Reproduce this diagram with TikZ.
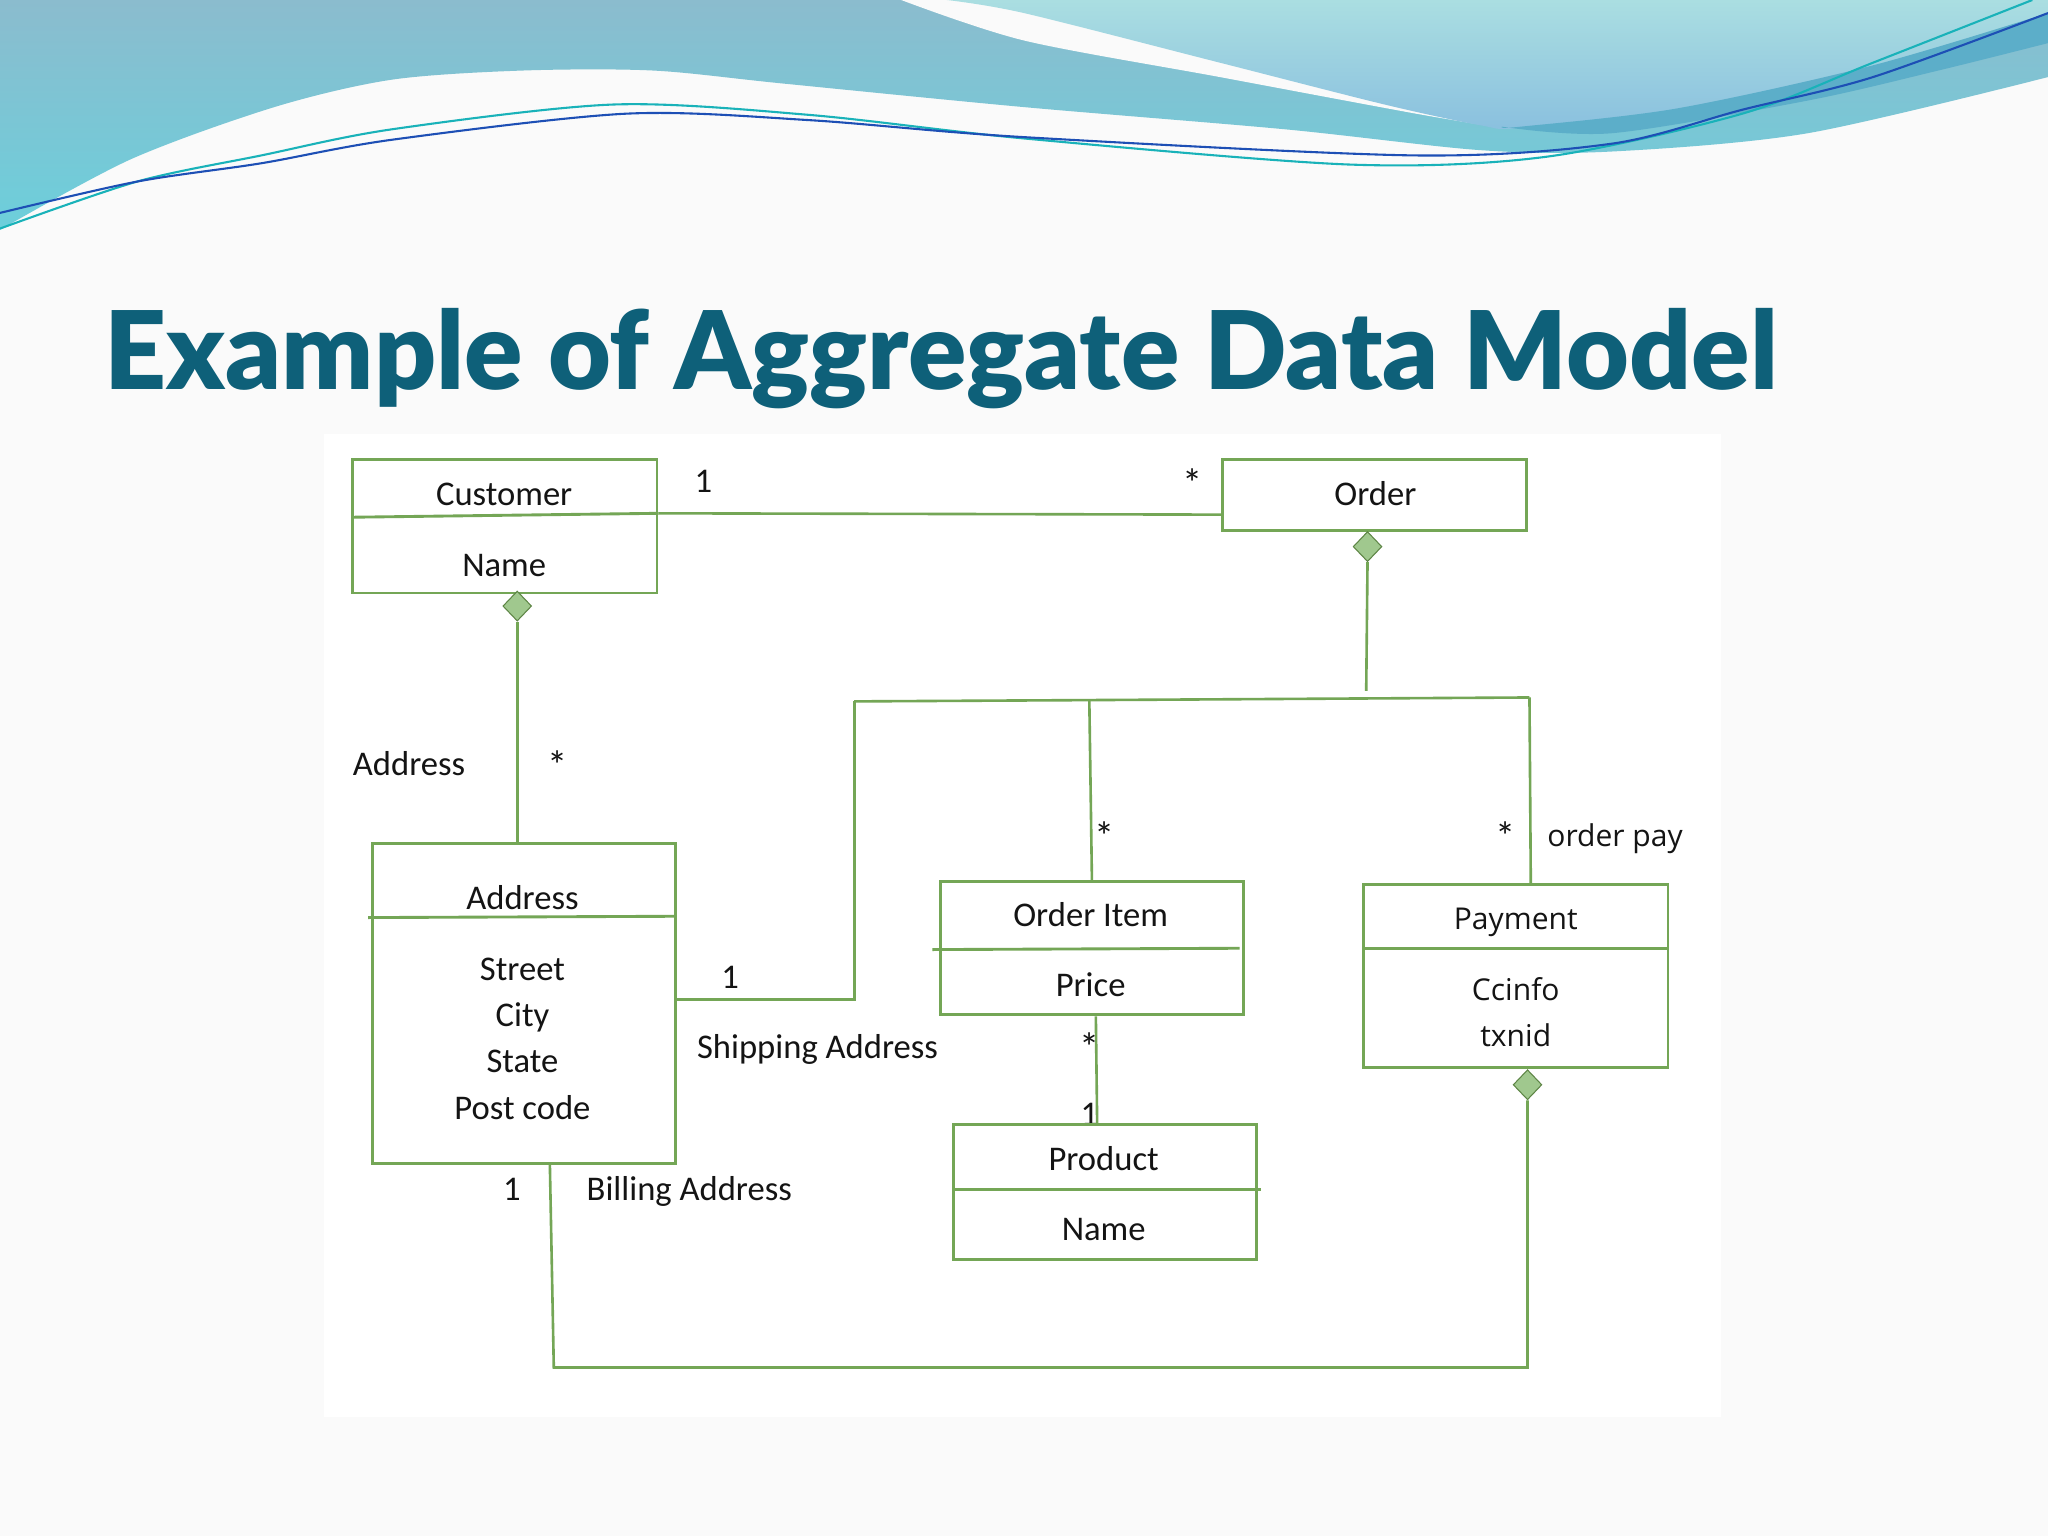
\documentclass[tikz,border=0pt]{standalone}
\usepackage{fontspec}
\setmainfont{Carlito}
\newfontfamily\titlefont{Lato}[UprightFont=* Black]
\newfontfamily\segoe{Open Sans}
\usetikzlibrary{shapes.geometric,calc}
\definecolor{lg}{RGB}{116,166,86}
\definecolor{dfill}{RGB}{160,200,142}
\definecolor{ttl}{RGB}{14,96,121}
\definecolor{txt}{RGB}{20,20,20}
\definecolor{slide}{RGB}{250,250,250}
\definecolor{tealtop}{RGB}{139,188,206}
\definecolor{tealbot}{RGB}{108,207,219}
\definecolor{lighttop}{RGB}{170,222,225}
\definecolor{lightbot}{RGB}{138,192,223}
\definecolor{darkstrip}{RGB}{92,174,201}
\definecolor{tealline}{RGB}{25,178,185}
\definecolor{blueline}{RGB}{29,79,181}
\begin{document}
\begin{tikzpicture}[x=1pt,y=-1pt,
  umlbox/.style={draw=lg, line width=2.2pt, rectangle, inner sep=0pt},
  conn/.style={draw=lg, line width=2pt},
  agg/.style={diamond, draw=lg!80!black, fill=dfill, line width=0.8pt, inner sep=0pt, minimum width=22pt, minimum height=23pt},
  lab/.style={font=\fontsize{26.5}{32}\selectfont, text=txt, anchor=base, inner sep=0pt},
  star/.style={font=\fontsize{31}{36}\selectfont, text=txt, anchor=base, inner sep=0pt},
  slab/.style={font=\segoe\fontsize{23}{28}\selectfont, text=txt, anchor=base, inner sep=0pt}]
% background
\fill[slide] (0,0) rectangle (1568,1176);
\useasboundingbox (0,0) rectangle (1568,1176);
% header waves
\shade[top color=tealtop, bottom color=tealbot] (0,0) -- (1568,0) -- (1568,59)
  -- plot[smooth] coordinates {(1568,59) (1384,102) (1234,116) (1134,115) (984,99) (784,82) (600,64) (500,54) (400,54) (300,61) (210,82) (100,122) (0,176)} -- cycle;
\fill[slide] plot[smooth] coordinates {(690,0) (784,31) (934,59) (1084,87) (1150,98)} -- (1568,0) -- cycle;
\shade[top color=lighttop, bottom color=lightbot] plot[smooth] coordinates {(725,0) (784,10) (934,48) (1060,80) (1134,96) (1164,98) (1284,84) (1434,51) (1568,10)} -- (1568,0) -- cycle;
\fill[darkstrip] plot[smooth] coordinates {(1150,97) (1164,97) (1284,83) (1434,50) (1568,10)} -- (1568,33)
  -- plot[smooth] coordinates {(1568,33) (1484,54) (1384,77) (1234,102) (1150,97)} -- cycle;
\draw[tealline, line width=1.6pt] plot[smooth] coordinates {(0,175) (105,139) (200,119) (300,99) (470,80) (620,88) (784,106) (1034,126) (1184,120) (1334,87) (1434,48) (1556,0)};
\draw[blueline, line width=1.6pt] plot[smooth] coordinates {(0,163) (105,139) (200,125) (300,107) (480,87) (620,92) (784,105) (1084,119) (1234,110) (1334,84) (1434,59) (1568,10)};
% title
\node[font=\titlefont\fontsize{83}{96}\selectfont, text=ttl, anchor=base west, inner sep=0pt] (title) at (80,298) {Example of Aggregate Data Model};
% diagram canvas
\fill[white] (248,332) rectangle (1318,1085);
% multiplicity under product box line
\node[lab] (m1prod) at (834,862) {1};
% boxes
\node[umlbox, minimum width=233pt, minimum height=102pt] (cust) at (386.5,403) {};
\node[umlbox, minimum width=233pt, minimum height=54pt] (order) at (1052.5,379) {};
\node[umlbox, minimum width=232pt, minimum height=245pt] (addr) at (401,768.5) {};
\node[umlbox, minimum width=232pt, minimum height=102pt] (oitem) at (836,726) {};
\node[umlbox, minimum width=232pt, minimum height=103pt] (prod) at (846,912.5) {};
\node[umlbox, minimum width=233pt, minimum height=140pt] (pay) at (1160.5,747) {};
% dividers
\draw[umlbox] ([yshift=7pt]cust.west) -- ([yshift=10pt]cust.east);
\draw[umlbox] ([xshift=-2pt,yshift=66pt]addr.west) -- ([yshift=67pt]addr.east);
\draw[umlbox] ([xshift=-5pt,yshift=-1pt]oitem.west) -- ([xshift=-4pt]oitem.east);
\draw[umlbox] ([yshift=1.5pt]prod.west) -- ([xshift=2pt,yshift=1.5pt]prod.east);
\draw[umlbox] ([yshift=21pt]pay.west) -- ([yshift=21pt]pay.east);
% box texts
\node[lab] (tcust) at (386,387) {Customer};
\node[lab] (tcname) at (386,441) {Name};
\node[lab] (torder) at (1053,387) {Order};
\node[lab] (taddr) at (400,696) {Address};
\node[lab] (tstreet) at (400,751) {Street};
\node[lab] (tcity) at (400,786) {City};
\node[lab] (tstate) at (400,821.5) {State};
\node[lab] (tpost) at (400,857) {Post code};
\node[lab] (toitem) at (835,709.5) {Order Item};
\node[lab] (tprice) at (835,763) {Price};
\node[lab] (tprod) at (845,896) {Product};
\node[lab] (tpname) at (845,950) {Name};
\node[slab] (tpay) at (1160.5,712) {Payment};
\node[slab] (tcc) at (1160.5,766) {Ccinfo};
\node[slab] (ttx) at (1160.5,801) {txnid};
% aggregation diamonds
\node[agg] (dc) at (396,464) {};
\node[agg] (do) at (1047,418.5) {};
\node[agg] (dp) at (1169.5,830.5) {};
% junction coordinates
\coordinate (jo) at (1046,529);
\coordinate (b1) at (654,537);
\coordinate (b2) at (834,536);
\coordinate (b3) at (1171,534);
\coordinate (bill) at (424,1047);
% connectors
\draw[conn] ([yshift=10pt]cust.east) -- ([yshift=-15pt]order.west);
\draw[conn] (dc.south) -- (dc.south |- addr.north);
\draw[conn] (do.south) -- (jo);
\draw[conn] (b1) -- (b2) -- (b3);
\draw[conn] (b1) |- ([yshift=3.5pt]addr.east);
\draw[conn] (b2) -- (oitem.north);
\draw[conn] (b3) -- ([xshift=11.5pt]pay.north);
\draw[conn] ([xshift=3pt]oitem.south) -- ([xshift=-6pt]prod.north);
\draw[conn] (dp.south) |- (bill) -- ([xshift=20pt]addr.south);
% connector labels
\node[lab] (m1co) at (538.5,377) {1};
\node[star] (mso) at (913,381) {*};
\node[lab, anchor=base west] (laddr) at (270,594) {Address};
\node[star] (msaddr) at (427,597) {*};
\node[star] (msoi) at (846,651) {*};
\node[star] (mspay) at (1153,651) {*};
\node[slab, anchor=base west] (lpay) at (1184.5,648) {order pay};
\node[lab] (m1ship) at (559,756.5) {1};
\node[lab, anchor=base west] (lship) at (533.5,810.5) {Shipping Address};
\node[star] (msprod) at (834,813) {*};
\node[lab] (m1bill) at (392,919) {1};
\node[lab, anchor=base west] (lbill) at (449,919) {Billing Address};
\end{tikzpicture}
\end{document}
